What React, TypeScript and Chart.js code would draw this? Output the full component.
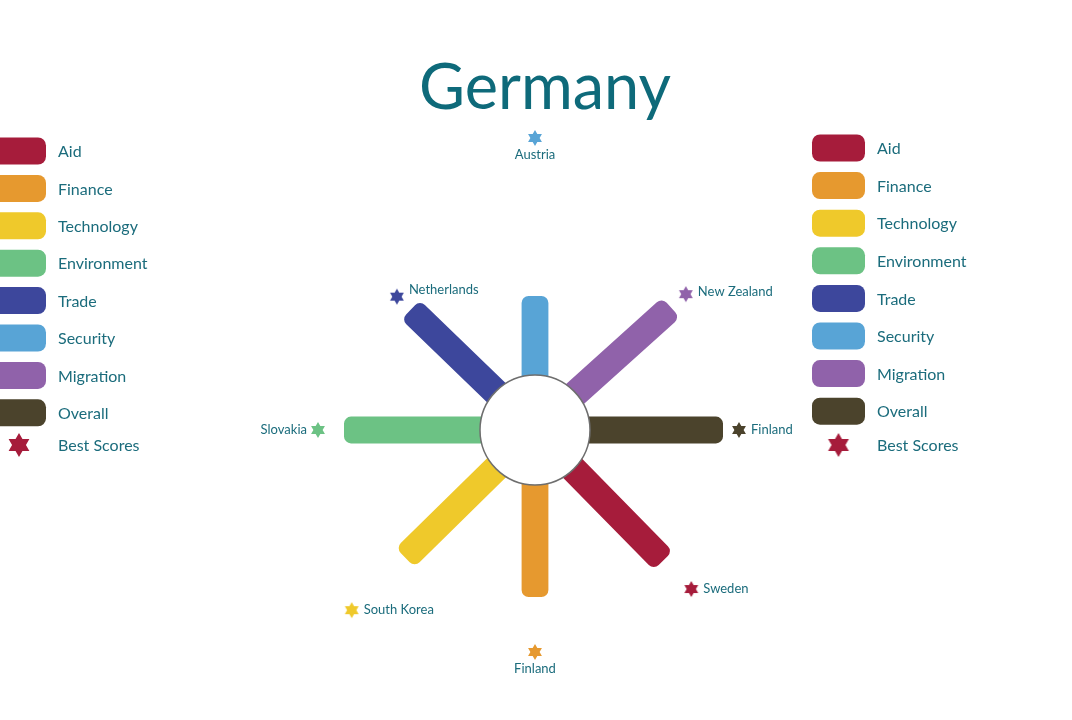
import React, { useEffect, useRef } from "react";
import { Chart, registerables } from "chart.js";

Chart.register(...registerables);

// ---- Data ----
const title = "Germany";
const categories = ["Aid", "Finance", "Technology", "Environment", "Trade", "Security", "Migration", "Overall"];
const directionDeg = [-45.5, -90, -135.5, 180, 136, 90, 42, 0];
const germanyScores = [9.15, 8.35, 9.1, 9.55, 8.65, 6.7, 9.15, 9.4];
const bestScores = [11.15, 11.1, 12.85, 10.85, 9.6, 14.6, 10.15, 10.2];
const bestCountries = ["Sweden", "Finland", "South Korea", "Slovakia", "Netherlands", "Austria", "New Zealand", "Finland"];
const bestLegendLabel = "Best Scores";

// ---- Styles ----
const colors = ["#a61c3b", "#e6992f", "#efc92b", "#6cc284", "#3d479c", "#58a4d6", "#9062aa", "#4b432c"];
const labelPlacement = ["right", "below", "right", "left", "right", "below", "right", "right"];
const labelDy = [0, 0, 0, 0, -7, 0, -2, 0];
const TEAL = "#1b6c7c";
const TITLE_COLOR = "#0e6a7a";
const FONT = "Lato, 'Open Sans', sans-serif";

const W = 1072;
const H = 720;
const PX = 20; // pixels per unit
const CX = 535;
const CY = 430;
const X_MIN = -CX / PX;
const X_MAX = (W - CX) / PX;
const Y_MIN = -(H - CY) / PX;
const Y_MAX = CY / PX;
const HALF_W = 0.67;
const CORNER = 0.35;
const INNER_R = 1.0;
const HOLE_PX = 55;

function makeStar(color: string, R: number): HTMLCanvasElement {
  const s = Math.ceil(R * 2 + 4);
  const c = document.createElement("canvas");
  c.width = s;
  c.height = s;
  const ctx = c.getContext("2d")!;
  const cx = s / 2;
  const cy = s / 2;
  ctx.beginPath();
  for (let k = 0; k < 12; k++) {
    const a = -Math.PI / 2 + (k * Math.PI) / 6;
    const r = k % 2 === 0 ? R : R / Math.sqrt(3);
    const x = cx + r * Math.cos(a);
    const y = cy + r * Math.sin(a);
    if (k === 0) ctx.moveTo(x, y);
    else ctx.lineTo(x, y);
  }
  ctx.closePath();
  ctx.fillStyle = color;
  ctx.fill();
  return c;
}

function roundRect(ctx: CanvasRenderingContext2D, x: number, y: number, w: number, h: number, r: number) {
  ctx.beginPath();
  ctx.moveTo(x + r, y);
  ctx.lineTo(x + w - r, y);
  ctx.arcTo(x + w, y, x + w, y + r, r);
  ctx.lineTo(x + w, y + h - r);
  ctx.arcTo(x + w, y + h, x + w - r, y + h, r);
  ctx.lineTo(x + r, y + h);
  ctx.arcTo(x, y + h, x, y + h - r, r);
  ctx.lineTo(x, y + r);
  ctx.arcTo(x, y, x + r, y, r);
  ctx.closePath();
}

export default function App() {
  const ref = useRef<HTMLCanvasElement>(null);

  useEffect(() => {
    const canvas = ref.current!;
    const stars = colors.map((c) => makeStar(c, 8));
    const legendStar = makeStar(colors[0], 12);

    const barDatasets = categories.map((cat, i) => {
      const a = (directionDeg[i] * Math.PI) / 180;
      const dx = Math.cos(a);
      const dy = Math.sin(a);
      const px = -dy;
      const py = dx;
      const w = HALF_W - CORNER;
      const r1 = germanyScores[i] - CORNER;
      const pts = [
        { x: INNER_R * dx + w * px, y: INNER_R * dy + w * py },
        { x: r1 * dx + w * px, y: r1 * dy + w * py },
        { x: r1 * dx - w * px, y: r1 * dy - w * py },
        { x: INNER_R * dx - w * px, y: INNER_R * dy - w * py },
        { x: INNER_R * dx + w * px, y: INNER_R * dy + w * py },
      ];
      return {
        type: "line" as const,
        label: cat,
        data: pts,
        showLine: true,
        borderColor: colors[i],
        backgroundColor: colors[i],
        borderWidth: CORNER * 2 * PX,
        borderJoinStyle: "round" as const,
        fill: "shape" as any,
        pointRadius: 0,
        tension: 0,
        order: 3,
      };
    });

    const starDataset = {
      type: "scatter" as const,
      label: bestLegendLabel,
      data: bestScores.map((v, i) => {
        const a = (directionDeg[i] * Math.PI) / 180;
        return { x: v * Math.cos(a), y: v * Math.sin(a) };
      }),
      pointStyle: stars,
      pointRadius: 8,
      order: 1,
    };

    const holeDataset = {
      type: "scatter" as const,
      label: "hole",
      data: [{ x: 0, y: 0 }],
      pointRadius: HOLE_PX,
      pointBackgroundColor: "#ffffff",
      pointBorderColor: "#6e6e6e",
      pointBorderWidth: 1.5,
      order: 0,
    };

    const decor = {
      id: "decor",
      beforeDraw(chart: any) {
        const ctx = chart.ctx as CanvasRenderingContext2D;
        ctx.save();
        ctx.fillStyle = "#ffffff";
        ctx.fillRect(0, 0, W, H);
        ctx.restore();
      },
      afterDatasetsDraw(chart: any) {
        const ctx = chart.ctx as CanvasRenderingContext2D;
        const xs = chart.scales.x;
        const ys = chart.scales.y;
        ctx.save();
        ctx.fillStyle = TEAL;
        ctx.font = `13px ${FONT}`;
        bestScores.forEach((v, i) => {
          const a = (directionDeg[i] * Math.PI) / 180;
          const x = xs.getPixelForValue(v * Math.cos(a));
          const y = ys.getPixelForValue(v * Math.sin(a));
          const place = labelPlacement[i];
          if (place === "below") {
            ctx.textAlign = "center";
            ctx.textBaseline = "middle";
            ctx.fillText(bestCountries[i], x, y + 17 + labelDy[i]);
          } else if (place === "right") {
            ctx.textAlign = "left";
            ctx.textBaseline = "middle";
            ctx.fillText(bestCountries[i], x + 12, y + labelDy[i]);
          } else {
            ctx.textAlign = "right";
            ctx.textBaseline = "middle";
            ctx.fillText(bestCountries[i], x - 11, y + labelDy[i]);
          }
        });
        ctx.restore();
      },
      afterDraw(chart: any) {
        const ctx = chart.ctx as CanvasRenderingContext2D;
        ctx.save();
        // title
        ctx.fillStyle = TITLE_COLOR;
        ctx.font = `63px ${FONT}`;
        ctx.textAlign = "center";
        ctx.textBaseline = "alphabetic";
        ctx.fillText(title, 545, 109);

        // legends
        const legends = [
          { sx: -8, sw: 54, tx: 58, y0: 151, step: 37.4 },
          { sx: 812, sw: 53, tx: 877, y0: 148, step: 37.6 },
        ];
        ctx.font = `16px ${FONT}`;
        ctx.textAlign = "left";
        ctx.textBaseline = "middle";
        legends.forEach((lg) => {
          categories.forEach((cat, i) => {
            const y = lg.y0 + i * lg.step;
            ctx.fillStyle = colors[i];
            roundRect(ctx, lg.sx, y - 13.5, lg.sw, 27, 8);
            ctx.fill();
            ctx.fillStyle = TEAL;
            ctx.fillText(cat, lg.tx, y + 1);
          });
          const yb = 445;
          const starX = lg.sx + lg.sw / 2;
          ctx.drawImage(legendStar, starX - legendStar.width / 2, yb - legendStar.height / 2);
          ctx.fillStyle = TEAL;
          ctx.fillText(bestLegendLabel, lg.tx, yb + 1);
        });
        ctx.restore();
      },
    };

    const chart = new Chart(canvas, {
      type: "scatter",
      data: { datasets: [holeDataset, starDataset, ...barDatasets] as any },
      options: {
        responsive: false,
        animation: false,
        layout: { padding: 0, autoPadding: false },
        events: [],
        plugins: {
          legend: { display: false },
          tooltip: { enabled: false },
          title: { display: false },
        },
        scales: {
          x: { type: "linear", min: X_MIN, max: X_MAX, display: false, bounds: "data" },
          y: { type: "linear", min: Y_MIN, max: Y_MAX, display: false, bounds: "data" },
        },
      },
      plugins: [decor],
    });
    return () => chart.destroy();
  }, []);

  return (
    <div style={{ position: "absolute", left: 0, top: 0, width: W, height: H, background: "#fff" }}>
      <canvas ref={ref} width={W} height={H} style={{ display: "block" }} />
    </div>
  );
}
